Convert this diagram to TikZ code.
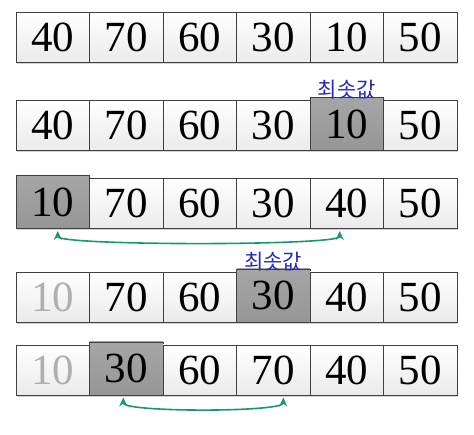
\documentclass[tikz,border=0pt]{standalone}
\usepackage{fontspec}
\setmainfont{Liberation Serif}
\newfontfamily\kofont{Noto Sans CJK KR}
\usetikzlibrary{shadows,arrows.meta}
\definecolor{swapgreen}{RGB}{25,150,115}
\definecolor{lblblue}{RGB}{40,40,190}
\definecolor{cellgray}{RGB}{150,150,150}
\definecolor{fadedtxt}{RGB}{175,175,175}
\tikzset{
  cell/.style={draw=black!75, line width=0.9pt, top color=white, bottom color=black!8,
    minimum width=73.5pt, minimum height=50pt, inner sep=0pt,
    font=\fontsize{43}{43}\selectfont,
    drop shadow={opacity=0.35, shadow xshift=1pt, shadow yshift=-2pt}},
  selcell/.style={cell, top color=cellgray!85, bottom color=cellgray, minimum height=53pt, yshift=1.5pt},
  faded/.style={text=fadedtxt},
  minlabel/.style={text=lblblue, font=\kofont\fontsize{21}{21}\selectfont, inner sep=0pt},
  swaparrow/.style={draw=swapgreen, line width=1.6pt, {Stealth[length=9pt,width=8pt]}-{Stealth[length=9pt,width=8pt]}}
}
\begin{document}
\begin{tikzpicture}[x=1pt,y=1pt]
\useasboundingbox (0,0) rectangle (474,434);
% row 1
\foreach \v [count=\i] in {40,70,60,30,10,50}
  \node[cell] (a\i) at ({16+73.5*(\i-0.5)},397) {\v};
% row 2
\foreach \v [count=\i] in {40,70,60,30}
  \node[cell] (b\i) at ({16+73.5*(\i-0.5)},308.5) {\v};
\node[selcell] (b5) at ({16+73.5*4.5},308.5) {10};
\node[cell] (b6) at ({16+73.5*5.5},308.5) {50};
\node[minlabel] (lb) at ({16+73.5*4.5},344) {최솟값};
% row 3
\node[selcell] (c1) at ({16+73.5*0.5},230.5) {10};
\foreach \v [count=\i from 2] in {70,60,30,40,50}
  \node[cell] (c\i) at ({16+73.5*(\i-0.5)},230.5) {\v};
\coordinate (c1a) at ([xshift=5pt,yshift=-2pt]c1.south);
\coordinate (c5a) at ([xshift=-7pt,yshift=-2pt]c5.south);
\draw[swaparrow] (c1a) .. controls ([yshift=-15pt]c1a) and ([yshift=-15pt]c5a) .. (c5a);
% row 4
\node[cell,faded] (d1) at ({16+73.5*0.5},137) {10};
\foreach \v [count=\i from 2] in {70,60}
  \node[cell] (d\i) at ({16+73.5*(\i-0.5)},137) {\v};
\node[selcell] (d4) at ({16+73.5*3.5},137) {30};
\foreach \v [count=\i from 5] in {40,50}
  \node[cell] (d\i) at ({16+73.5*(\i-0.5)},137) {\v};
\node[minlabel] (ld) at ({16+73.5*3.5},172) {최솟값};
% row 5
\node[cell,faded] (e1) at ({16+73.5*0.5},64) {10};
\node[selcell] (e2) at ({16+73.5*1.5},64) {30};
\foreach \v [count=\i from 3] in {60,70,40,50}
  \node[cell] (e\i) at ({16+73.5*(\i-0.5)},64) {\v};
\coordinate (e2a) at ([xshift=-3pt,yshift=-2pt]e2.south);
\coordinate (e4a) at ([xshift=10pt,yshift=-2pt]e4.south);
\draw[swaparrow] (e2a) .. controls ([yshift=-15pt]e2a) and ([yshift=-15pt]e4a) .. (e4a);
\end{tikzpicture}
\end{document}
